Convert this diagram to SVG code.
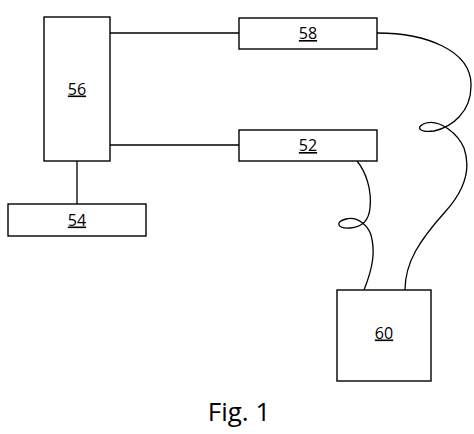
<svg xmlns="http://www.w3.org/2000/svg" width="474" height="434" viewBox="0 0 474 434">
<style>
.box{fill:#fff;stroke:#000;stroke-width:1.4}
.ln{fill:none;stroke:#000;stroke-width:1.3}
.lbl{font-family:"Open Sans","Noto Sans",sans-serif;font-size:16px;text-anchor:middle;text-decoration:underline;fill:#000}
.cap{font-family:"Open Sans","Noto Sans",sans-serif;font-size:26px;text-anchor:middle;fill:#000}
</style>
<rect width="474" height="434" fill="#fff"/>
<g id="connectors">
<line class="ln" x1="110" y1="33" x2="239" y2="33"/>
<line class="ln" x1="110" y1="145" x2="239" y2="145"/>
<line class="ln" x1="77" y1="161" x2="77" y2="204"/>
<path class="ln" d="M377,33 C425,33 472,50 471,86 C471,112 452,127 434,131 C420,133 414,127 426,123 C440,119 458,134 464,148 C471,168 465,190 445,212 C420,240 405,262 405,290"/>
<path class="ln" d="M357,161 C366,172 372,190 370,208 C369,219 364,227 350,228 C338,229 334,222 346,219 C358,216 368,226 371,235 C375,250 374,265 364,290"/>
</g>
<g id="n56"><rect class="box" x="44" y="17" width="66" height="144"/><text class="lbl" x="77" y="94.5">56</text></g>
<g id="n54"><rect class="box" x="8" y="204" width="138" height="32"/><text class="lbl" x="77" y="225.5">54</text></g>
<g id="n58"><rect class="box" x="239" y="18" width="138" height="31"/><text class="lbl" x="308" y="39">58</text></g>
<g id="n52"><rect class="box" x="239" y="130" width="138" height="31"/><text class="lbl" x="308" y="151">52</text></g>
<g id="n60"><rect class="box" x="337" y="290" width="94" height="91"/><text class="lbl" x="384" y="338.5">60</text></g>
<text class="cap" x="239" y="421">Fig. 1</text>
</svg>
